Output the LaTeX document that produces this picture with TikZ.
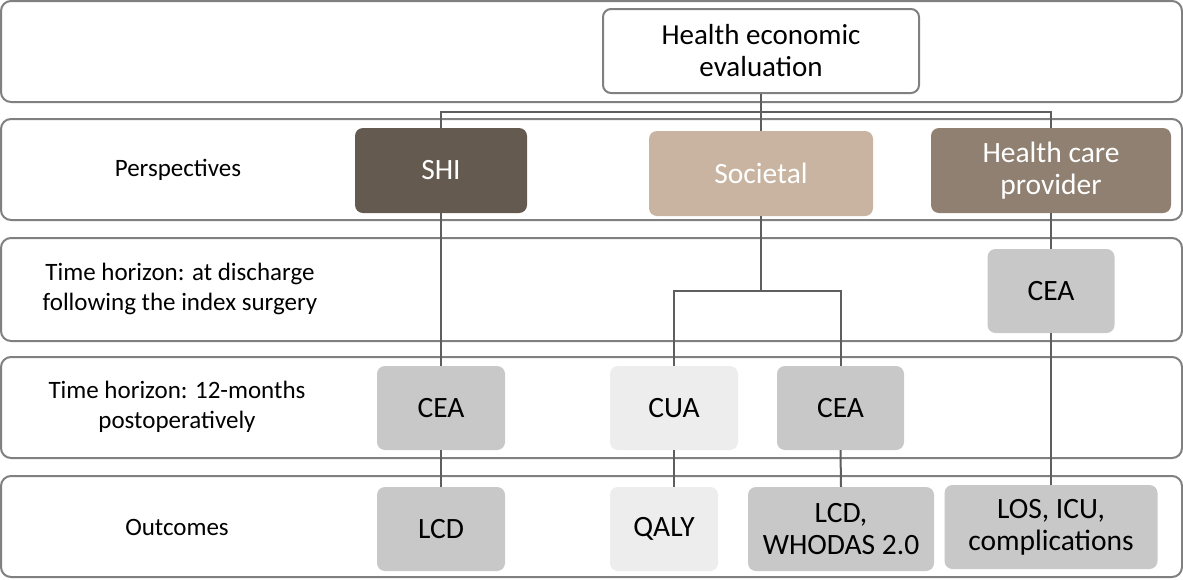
\documentclass[tikz,border=0pt]{standalone}
\usepackage{fontspec}
\setmainfont{Carlito}
\definecolor{panelgray}{HTML}{808080}
\definecolor{conngray}{HTML}{5E5E5E}
\definecolor{shic}{HTML}{645A50}
\definecolor{socc}{HTML}{C8B4A0}
\definecolor{hcpc}{HTML}{8F8071}
\definecolor{ceac}{HTML}{C8C8C8}
\definecolor{cuac}{HTML}{EDEDED}
\begin{document}
\begin{tikzpicture}[x=1pt,y=-1pt,
  panel/.style={draw=panelgray, line width=2pt, rounded corners=10pt},
  conn/.style={draw=conngray, line width=2pt},
  box/.style={rounded corners=8pt, align=center, inner sep=0pt,
    font=\fontsize{29.5}{32}\selectfont, text=black},
  lbl/.style={align=center, inner sep=0pt, font=\fontsize{25}{30}\selectfont, text=black},
  whitetxt/.style={text=white}]
\path[use as bounding box, fill=white] (0,0) rectangle (1183,579);
% panels
\draw[panel] (1,1) rectangle (1182,102);
\draw[panel] (1,119) rectangle (1182,220);
\draw[panel] (1,238) rectangle (1182,341);
\draw[panel] (1,357) rectangle (1182,458);
\draw[panel] (1,476) rectangle (1182,577);
% row labels
\node[lbl] (lp) at (178,170) {Perspectives};
\node[lbl] (lt1) at (180,289) {Time horizon: at discharge\\following the index surgery};
\node[lbl] (lt2) at (177,407) {Time horizon: 12-months\\postoperatively};
\node[lbl] (lo) at (177,527) {Outcomes};
% nodes
\node[box, font=\fontsize{29}{32}\selectfont, draw=panelgray, line width=2pt, fill=white, minimum width=316pt, minimum height=84pt] (hee) at (761,51) {Health economic\\evaluation};
\node[box, fill=shic, whitetxt, minimum width=172pt, minimum height=85pt] (shi) at (441,170.5) {SHI};
\node[box, fill=socc, whitetxt, minimum width=224pt, minimum height=85pt] (soc) at (761,173.5) {Societal};
\node[box, fill=hcpc, whitetxt, minimum width=240pt, minimum height=85pt] (hcp) at (1051,170.5) {Health care\\provider};
\node[box, fill=ceac, minimum width=127pt, minimum height=84pt] (cea3) at (1051,291) {CEA};
\node[box, fill=ceac, minimum width=128pt, minimum height=84pt] (cea1) at (441,408) {CEA};
\node[box, fill=cuac, minimum width=128pt, minimum height=84pt] (cua) at (674,408) {CUA};
\node[box, fill=ceac, minimum width=127pt, minimum height=84pt] (cea2) at (840.5,408) {CEA};
\node[box, fill=ceac, minimum width=128pt, minimum height=84pt] (lcd) at (441,529) {LCD};
\node[box, fill=cuac, minimum width=108pt, minimum height=84pt] (qaly) at (664,529) {QALY};
\node[box, fill=ceac, minimum width=186pt, minimum height=84pt] (lcdw) at (841,529) {LCD,\\WHODAS 2.0};
\node[box, fill=ceac, minimum width=213pt, minimum height=84pt] (los) at (1051,527) {LOS, ICU,\\complications};
% connectors
\coordinate (hub) at (761,112);
\coordinate (sh) at (761,291);
\draw[conn] (hee.south) -- (hub);
\draw[conn] (shi.north) |- (hub) -| (hcp.north);
\draw[conn] (hub) -- (soc.north);
\draw[conn] (soc.south) -- (sh);
\draw[conn] (cua.north) |- (sh) -| (cea2.north);
\draw[conn] (shi.south) -- (cea1.north);
\draw[conn] (hcp.south) -- (cea3.north);
\draw[conn] (cea3.south) -- (los.north);
\draw[conn] (cea1.south) -- (lcd.north);
\draw[conn] (cua.south) -- (cua.south |- qaly.north);
\draw[conn] (cea2.south) -- (lcdw.north);
\end{tikzpicture}
\end{document}
